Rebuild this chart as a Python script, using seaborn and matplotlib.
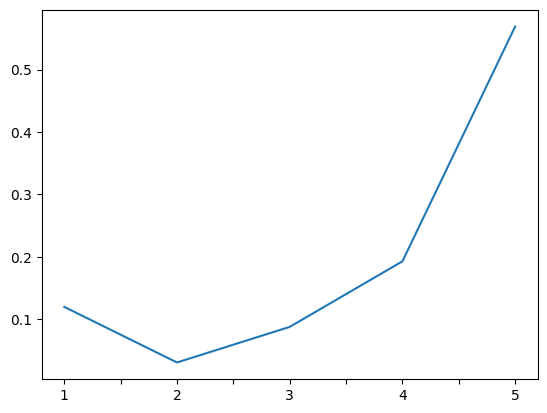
import matplotlib
matplotlib.use("Agg")
import matplotlib.pyplot as plt
import seaborn as sns
import pandas as pd

x_vals = [1, 2, 3, 4, 5]
y_vals = [0.120, 0.031, 0.088, 0.193, 0.569]
tick_positions = [1, 1.5, 2, 2.5, 3, 3.5, 4, 4.5, 5]
tick_labels = ["1", "", "2", "", "3", "", "4", "", "5"]

df = pd.DataFrame({"x": x_vals, "y": y_vals})
fig, ax = plt.subplots(figsize=(6.4, 4.8), dpi=100)
sns.lineplot(data=df, x="x", y="y", ax=ax, color="#1f77b4")
ax.set_xticks(tick_positions)
ax.set_xticklabels(tick_labels)
ax.set_xlabel("")
ax.set_ylabel("")
fig.savefig("out.png", dpi=100, bbox_inches="tight")
